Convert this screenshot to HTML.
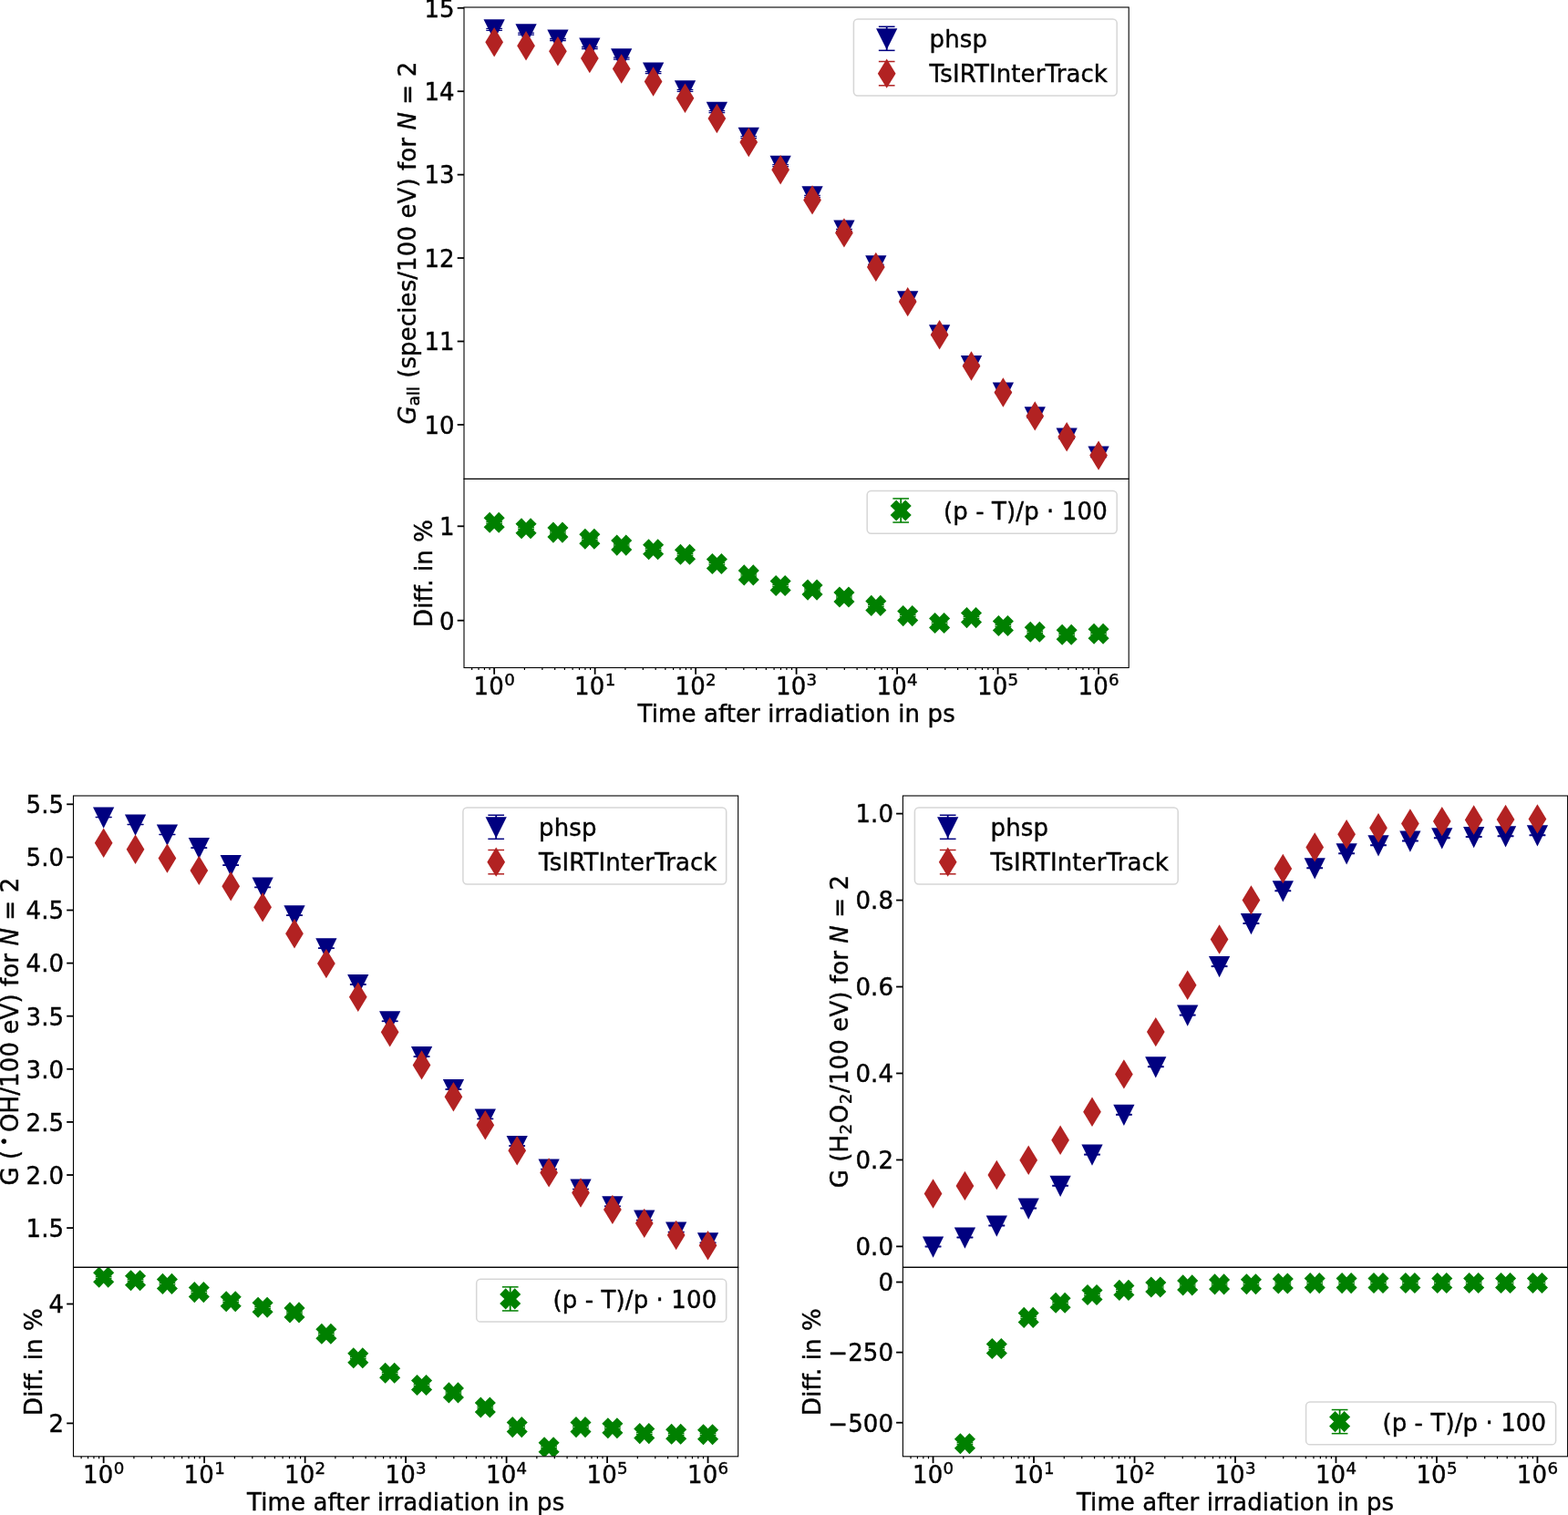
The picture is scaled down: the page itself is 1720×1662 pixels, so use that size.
<!DOCTYPE html>
<html><head><meta charset="utf-8"><title>G-value comparison plots</title>
<style>html,body{margin:0;padding:0;background:#fff;}svg{display:block;}text{stroke:#000;stroke-width:0.4px;}</style></head>
<body>
<svg width="1720" height="1662" viewBox="0 0 1720 1662" font-family="'DejaVu Sans', 'Liberation Sans', sans-serif" font-size="26" letter-spacing="0.1" fill="#000">
<rect width="1720" height="1662" fill="#fff"/>
<defs><clipPath id="cm0"><rect x="509" y="8" width="729.2" height="517.4"/></clipPath>
<clipPath id="cd0"><rect x="509" y="525.4" width="729.2" height="207.1"/></clipPath>
<clipPath id="cm1"><rect x="80.5" y="873" width="729.2" height="517.3"/></clipPath>
<clipPath id="cd1"><rect x="80.5" y="1390.3" width="729.2" height="207.5"/></clipPath>
<clipPath id="cm2"><rect x="990.4" y="873" width="729.2" height="517.3"/></clipPath>
<clipPath id="cd2"><rect x="990.4" y="1390.3" width="729.2" height="207.5"/></clipPath></defs>
<g clip-path="url(#cm0)"><g fill="#000080" stroke="#000080" stroke-width="1.3"><line x1="533.3" y1="31.3" x2="551" y2="31.3"/><line x1="533.3" y1="33.3" x2="551" y2="33.3"/><line x1="568.19" y1="36.2" x2="585.89" y2="36.2"/><line x1="568.19" y1="38.2" x2="585.89" y2="38.2"/><line x1="603.08" y1="42.5" x2="620.78" y2="42.5"/><line x1="603.08" y1="44.5" x2="620.78" y2="44.5"/><line x1="637.97" y1="51.5" x2="655.67" y2="51.5"/><line x1="637.97" y1="53.5" x2="655.67" y2="53.5"/><line x1="672.86" y1="63.2" x2="690.56" y2="63.2"/><line x1="672.86" y1="65.2" x2="690.56" y2="65.2"/><line x1="707.75" y1="78.6" x2="725.45" y2="78.6"/><line x1="707.75" y1="80.6" x2="725.45" y2="80.6"/><line x1="742.64" y1="98.3" x2="760.34" y2="98.3"/><line x1="742.64" y1="100.3" x2="760.34" y2="100.3"/><line x1="777.53" y1="121.7" x2="795.23" y2="121.7"/><line x1="777.53" y1="123.7" x2="795.23" y2="123.7"/><line x1="812.42" y1="149.7" x2="830.12" y2="149.7"/><line x1="812.42" y1="151.7" x2="830.12" y2="151.7"/><line x1="847.31" y1="180.7" x2="865.01" y2="180.7"/><line x1="847.31" y1="182.7" x2="865.01" y2="182.7"/><line x1="882.19" y1="214.3" x2="899.89" y2="214.3"/><line x1="882.19" y1="216.3" x2="899.89" y2="216.3"/><line x1="917.08" y1="251.4" x2="934.78" y2="251.4"/><line x1="917.08" y1="253.4" x2="934.78" y2="253.4"/><line x1="951.97" y1="290.2" x2="969.67" y2="290.2"/><line x1="951.97" y1="292.2" x2="969.67" y2="292.2"/><line x1="986.86" y1="329.2" x2="1004.56" y2="329.2"/><line x1="986.86" y1="331.2" x2="1004.56" y2="331.2"/><line x1="1021.75" y1="366.3" x2="1039.45" y2="366.3"/><line x1="1021.75" y1="368.3" x2="1039.45" y2="368.3"/><line x1="1056.64" y1="400" x2="1074.34" y2="400"/><line x1="1056.64" y1="402" x2="1074.34" y2="402"/><line x1="1091.53" y1="429.6" x2="1109.23" y2="429.6"/><line x1="1091.53" y1="431.6" x2="1109.23" y2="431.6"/><line x1="1126.42" y1="456.3" x2="1144.12" y2="456.3"/><line x1="1126.42" y1="458.3" x2="1144.12" y2="458.3"/><line x1="1161.31" y1="479.4" x2="1179.01" y2="479.4"/><line x1="1161.31" y1="481.4" x2="1179.01" y2="481.4"/><line x1="1196.2" y1="499.6" x2="1213.9" y2="499.6"/><line x1="1196.2" y1="501.6" x2="1213.9" y2="501.6"/></g><g fill="#000080"><path d="M530.53 21.3L553.77 21.3L542.15 44.54Z"/><path d="M565.42 26.2L588.66 26.2L577.04 49.44Z"/><path d="M600.31 32.5L623.55 32.5L611.93 55.74Z"/><path d="M635.2 41.5L658.44 41.5L646.82 64.74Z"/><path d="M670.09 53.2L693.33 53.2L681.71 76.44Z"/><path d="M704.98 68.6L728.22 68.6L716.6 91.84Z"/><path d="M739.87 88.3L763.11 88.3L751.49 111.54Z"/><path d="M774.76 111.7L798 111.7L786.38 134.94Z"/><path d="M809.65 139.7L832.89 139.7L821.27 162.94Z"/><path d="M844.54 170.7L867.78 170.7L856.16 193.94Z"/><path d="M879.42 204.3L902.66 204.3L891.04 227.54Z"/><path d="M914.31 241.4L937.55 241.4L925.93 264.64Z"/><path d="M949.2 280.2L972.44 280.2L960.82 303.44Z"/><path d="M984.09 319.2L1007.33 319.2L995.71 342.44Z"/><path d="M1018.98 356.3L1042.22 356.3L1030.6 379.54Z"/><path d="M1053.87 390L1077.11 390L1065.49 413.24Z"/><path d="M1088.76 419.6L1112 419.6L1100.38 442.84Z"/><path d="M1123.65 446.3L1146.89 446.3L1135.27 469.54Z"/><path d="M1158.54 469.4L1181.78 469.4L1170.16 492.64Z"/><path d="M1193.43 489.6L1216.67 489.6L1205.05 512.84Z"/></g><g fill="#b22222"><path d="M542.15 30L552 46.2L542.15 62.4L532.3 46.2Z"/><path d="M577.04 34.1L586.89 50.3L577.04 66.5L567.19 50.3Z"/><path d="M611.93 40L621.78 56.2L611.93 72.4L602.08 56.2Z"/><path d="M646.82 47.8L656.67 64L646.82 80.2L636.97 64Z"/><path d="M681.71 59.3L691.56 75.5L681.71 91.7L671.86 75.5Z"/><path d="M716.6 73.3L726.45 89.5L716.6 105.7L706.75 89.5Z"/><path d="M751.49 91.6L761.34 107.8L751.49 124L741.64 107.8Z"/><path d="M786.38 113.8L796.23 130L786.38 146.2L776.53 130Z"/><path d="M821.27 139.9L831.12 156.1L821.27 172.3L811.42 156.1Z"/><path d="M856.16 170L866.01 186.2L856.16 202.4L846.31 186.2Z"/><path d="M891.04 203.2L900.89 219.4L891.04 235.6L881.19 219.4Z"/><path d="M925.93 239.2L935.78 255.4L925.93 271.6L916.08 255.4Z"/><path d="M960.82 276.7L970.67 292.9L960.82 309.1L950.97 292.9Z"/><path d="M995.71 314.9L1005.56 331.1L995.71 347.3L985.86 331.1Z"/><path d="M1030.6 351.1L1040.45 367.3L1030.6 383.5L1020.75 367.3Z"/><path d="M1065.49 385.3L1075.34 401.5L1065.49 417.7L1055.64 401.5Z"/><path d="M1100.38 414.3L1110.23 430.5L1100.38 446.7L1090.53 430.5Z"/><path d="M1135.27 440.2L1145.12 456.4L1135.27 472.6L1125.42 456.4Z"/><path d="M1170.16 463L1180.01 479.2L1170.16 495.4L1160.31 479.2Z"/><path d="M1205.05 483.4L1214.9 499.6L1205.05 515.8L1195.2 499.6Z"/></g></g>
<g stroke="#000" stroke-width="1.8"><line x1="501.7" y1="465.92" x2="509" y2="465.92"/><line x1="501.7" y1="374.49" x2="509" y2="374.49"/><line x1="501.7" y1="283.06" x2="509" y2="283.06"/><line x1="501.7" y1="191.63" x2="509" y2="191.63"/><line x1="501.7" y1="100.2" x2="509" y2="100.2"/><line x1="501.7" y1="8.77" x2="509" y2="8.77"/></g>
<text x="498.7" y="475.72" text-anchor="end">10</text>
<text x="498.7" y="384.29" text-anchor="end">11</text>
<text x="498.7" y="292.86" text-anchor="end">12</text>
<text x="498.7" y="201.43" text-anchor="end">13</text>
<text x="498.7" y="110" text-anchor="end">14</text>
<text x="498.7" y="18.57" text-anchor="end">15</text>
<rect x="936.4" y="21" width="288.8" height="84" rx="4.4" ry="4.4" fill="#fff" fill-opacity="0.8" stroke="#ccc" stroke-opacity="0.8" stroke-width="1.5"/>
<g fill="#000080" stroke="#000080" stroke-width="1.5"><line x1="972.7" y1="29.25" x2="972.7" y2="55.35" stroke-width="1.8"/><line x1="963.85" y1="29.25" x2="981.55" y2="29.25"/><line x1="963.85" y1="55.35" x2="981.55" y2="55.35"/><path d="M961.08 31.3L984.32 31.3L972.7 54.54Z" stroke="none"/></g>
<g fill="#b22222" stroke="#b22222" stroke-width="1.5"><line x1="972.7" y1="67.5" x2="972.7" y2="93.8" stroke-width="1.8"/><line x1="963.85" y1="67.5" x2="981.55" y2="67.5"/><line x1="963.85" y1="93.8" x2="981.55" y2="93.8"/><path d="M972.7 64.45L982.55 80.65L972.7 96.85L962.85 80.65Z" stroke="none"/></g>
<text x="1019.6" y="52.3">phsp</text>
<text x="1019.6" y="90.3">TsIRTInterTrack</text>
<rect x="509" y="525.4" width="729.2" height="207.1" fill="#fff"/>
<g clip-path="url(#cd0)"><g fill="#008000" stroke="#008000" stroke-width="1.5"><line x1="533.3" y1="572.3" x2="551" y2="572.3"/><line x1="533.3" y1="574.3" x2="551" y2="574.3"/><line x1="568.19" y1="578.8" x2="585.89" y2="578.8"/><line x1="568.19" y1="580.8" x2="585.89" y2="580.8"/><line x1="603.08" y1="583.1" x2="620.78" y2="583.1"/><line x1="603.08" y1="585.1" x2="620.78" y2="585.1"/><line x1="637.97" y1="590.2" x2="655.67" y2="590.2"/><line x1="637.97" y1="592.2" x2="655.67" y2="592.2"/><line x1="672.86" y1="597.1" x2="690.56" y2="597.1"/><line x1="672.86" y1="599.1" x2="690.56" y2="599.1"/><line x1="707.75" y1="601.8" x2="725.45" y2="601.8"/><line x1="707.75" y1="603.8" x2="725.45" y2="603.8"/><line x1="742.64" y1="607.3" x2="760.34" y2="607.3"/><line x1="742.64" y1="609.3" x2="760.34" y2="609.3"/><line x1="777.53" y1="617.5" x2="795.23" y2="617.5"/><line x1="777.53" y1="619.5" x2="795.23" y2="619.5"/><line x1="812.42" y1="629.9" x2="830.12" y2="629.9"/><line x1="812.42" y1="631.9" x2="830.12" y2="631.9"/><line x1="847.31" y1="641.5" x2="865.01" y2="641.5"/><line x1="847.31" y1="643.5" x2="865.01" y2="643.5"/><line x1="882.19" y1="646.1" x2="899.89" y2="646.1"/><line x1="882.19" y1="648.1" x2="899.89" y2="648.1"/><line x1="917.08" y1="654" x2="934.78" y2="654"/><line x1="917.08" y1="656" x2="934.78" y2="656"/><line x1="951.97" y1="663.4" x2="969.67" y2="663.4"/><line x1="951.97" y1="665.4" x2="969.67" y2="665.4"/><line x1="986.86" y1="674.6" x2="1004.56" y2="674.6"/><line x1="986.86" y1="676.6" x2="1004.56" y2="676.6"/><line x1="1021.75" y1="682.5" x2="1039.45" y2="682.5"/><line x1="1021.75" y1="684.5" x2="1039.45" y2="684.5"/><line x1="1056.64" y1="676.6" x2="1074.34" y2="676.6"/><line x1="1056.64" y1="678.6" x2="1074.34" y2="678.6"/><line x1="1091.53" y1="685.5" x2="1109.23" y2="685.5"/><line x1="1091.53" y1="687.5" x2="1109.23" y2="687.5"/><line x1="1126.42" y1="692.3" x2="1144.12" y2="692.3"/><line x1="1126.42" y1="694.3" x2="1144.12" y2="694.3"/><line x1="1161.31" y1="695.3" x2="1179.01" y2="695.3"/><line x1="1161.31" y1="697.3" x2="1179.01" y2="697.3"/><line x1="1196.2" y1="694.3" x2="1213.9" y2="694.3"/><line x1="1196.2" y1="696.3" x2="1213.9" y2="696.3"/></g><g fill="#008000"><path d="M537.15 561.75L542.15 566.89L547.15 561.75L553.7 568.3L548.56 573.3L553.7 578.3L547.15 584.85L542.15 579.71L537.15 584.85L530.6 578.3L535.74 573.3L530.6 568.3Z"/><path d="M572.04 568.25L577.04 573.39L582.04 568.25L588.59 574.8L583.45 579.8L588.59 584.8L582.04 591.35L577.04 586.21L572.04 591.35L565.49 584.8L570.63 579.8L565.49 574.8Z"/><path d="M606.93 572.55L611.93 577.69L616.93 572.55L623.48 579.1L618.34 584.1L623.48 589.1L616.93 595.65L611.93 590.51L606.93 595.65L600.38 589.1L605.52 584.1L600.38 579.1Z"/><path d="M641.82 579.65L646.82 584.79L651.82 579.65L658.37 586.2L653.23 591.2L658.37 596.2L651.82 602.75L646.82 597.61L641.82 602.75L635.27 596.2L640.41 591.2L635.27 586.2Z"/><path d="M676.71 586.55L681.71 591.69L686.71 586.55L693.26 593.1L688.12 598.1L693.26 603.1L686.71 609.65L681.71 604.51L676.71 609.65L670.16 603.1L675.3 598.1L670.16 593.1Z"/><path d="M711.6 591.25L716.6 596.39L721.6 591.25L728.15 597.8L723.01 602.8L728.15 607.8L721.6 614.35L716.6 609.21L711.6 614.35L705.05 607.8L710.19 602.8L705.05 597.8Z"/><path d="M746.49 596.75L751.49 601.89L756.49 596.75L763.04 603.3L757.9 608.3L763.04 613.3L756.49 619.85L751.49 614.71L746.49 619.85L739.94 613.3L745.08 608.3L739.94 603.3Z"/><path d="M781.38 606.95L786.38 612.09L791.38 606.95L797.93 613.5L792.79 618.5L797.93 623.5L791.38 630.05L786.38 624.91L781.38 630.05L774.83 623.5L779.97 618.5L774.83 613.5Z"/><path d="M816.27 619.35L821.27 624.49L826.27 619.35L832.82 625.9L827.68 630.9L832.82 635.9L826.27 642.45L821.27 637.31L816.27 642.45L809.72 635.9L814.86 630.9L809.72 625.9Z"/><path d="M851.16 630.95L856.16 636.09L861.16 630.95L867.71 637.5L862.57 642.5L867.71 647.5L861.16 654.05L856.16 648.91L851.16 654.05L844.61 647.5L849.75 642.5L844.61 637.5Z"/><path d="M886.04 635.55L891.04 640.69L896.04 635.55L902.59 642.1L897.45 647.1L902.59 652.1L896.04 658.65L891.04 653.51L886.04 658.65L879.49 652.1L884.63 647.1L879.49 642.1Z"/><path d="M920.93 643.45L925.93 648.59L930.93 643.45L937.48 650L932.34 655L937.48 660L930.93 666.55L925.93 661.41L920.93 666.55L914.38 660L919.52 655L914.38 650Z"/><path d="M955.82 652.85L960.82 657.99L965.82 652.85L972.37 659.4L967.23 664.4L972.37 669.4L965.82 675.95L960.82 670.81L955.82 675.95L949.27 669.4L954.41 664.4L949.27 659.4Z"/><path d="M990.71 664.05L995.71 669.19L1000.71 664.05L1007.26 670.6L1002.12 675.6L1007.26 680.6L1000.71 687.15L995.71 682.01L990.71 687.15L984.16 680.6L989.3 675.6L984.16 670.6Z"/><path d="M1025.6 671.95L1030.6 677.09L1035.6 671.95L1042.15 678.5L1037.01 683.5L1042.15 688.5L1035.6 695.05L1030.6 689.91L1025.6 695.05L1019.05 688.5L1024.19 683.5L1019.05 678.5Z"/><path d="M1060.49 666.05L1065.49 671.19L1070.49 666.05L1077.04 672.6L1071.9 677.6L1077.04 682.6L1070.49 689.15L1065.49 684.01L1060.49 689.15L1053.94 682.6L1059.08 677.6L1053.94 672.6Z"/><path d="M1095.38 674.95L1100.38 680.09L1105.38 674.95L1111.93 681.5L1106.79 686.5L1111.93 691.5L1105.38 698.05L1100.38 692.91L1095.38 698.05L1088.83 691.5L1093.97 686.5L1088.83 681.5Z"/><path d="M1130.27 681.75L1135.27 686.89L1140.27 681.75L1146.82 688.3L1141.68 693.3L1146.82 698.3L1140.27 704.85L1135.27 699.71L1130.27 704.85L1123.72 698.3L1128.86 693.3L1123.72 688.3Z"/><path d="M1165.16 684.75L1170.16 689.89L1175.16 684.75L1181.71 691.3L1176.57 696.3L1181.71 701.3L1175.16 707.85L1170.16 702.71L1165.16 707.85L1158.61 701.3L1163.75 696.3L1158.61 691.3Z"/><path d="M1200.05 683.75L1205.05 688.89L1210.05 683.75L1216.6 690.3L1211.46 695.3L1216.6 700.3L1210.05 706.85L1205.05 701.71L1200.05 706.85L1193.5 700.3L1198.64 695.3L1193.5 690.3Z"/></g></g>
<g stroke="#000" stroke-width="1.8"><line x1="501.7" y1="680.7" x2="509" y2="680.7"/><line x1="501.7" y1="577.3" x2="509" y2="577.3"/></g>
<text x="498.7" y="690.5" text-anchor="end">0</text>
<text x="498.7" y="587.1" text-anchor="end">1</text>
<g stroke="#000" stroke-width="1.8"><line x1="542.15" y1="732.5" x2="542.15" y2="739.8"/><line x1="652.63" y1="732.5" x2="652.63" y2="739.8"/><line x1="763.12" y1="732.5" x2="763.12" y2="739.8"/><line x1="873.6" y1="732.5" x2="873.6" y2="739.8"/><line x1="984.08" y1="732.5" x2="984.08" y2="739.8"/><line x1="1094.57" y1="732.5" x2="1094.57" y2="739.8"/><line x1="1205.05" y1="732.5" x2="1205.05" y2="739.8"/></g><g stroke="#000" stroke-width="1.2"><line x1="517.63" y1="732.5" x2="517.63" y2="735"/><line x1="525.03" y1="732.5" x2="525.03" y2="735"/><line x1="531.44" y1="732.5" x2="531.44" y2="735"/><line x1="537.09" y1="732.5" x2="537.09" y2="735"/><line x1="575.4" y1="732.5" x2="575.4" y2="735"/><line x1="594.86" y1="732.5" x2="594.86" y2="735"/><line x1="608.66" y1="732.5" x2="608.66" y2="735"/><line x1="619.37" y1="732.5" x2="619.37" y2="735"/><line x1="628.12" y1="732.5" x2="628.12" y2="735"/><line x1="635.52" y1="732.5" x2="635.52" y2="735"/><line x1="641.92" y1="732.5" x2="641.92" y2="735"/><line x1="647.57" y1="732.5" x2="647.57" y2="735"/><line x1="685.89" y1="732.5" x2="685.89" y2="735"/><line x1="705.34" y1="732.5" x2="705.34" y2="735"/><line x1="719.15" y1="732.5" x2="719.15" y2="735"/><line x1="729.86" y1="732.5" x2="729.86" y2="735"/><line x1="738.6" y1="732.5" x2="738.6" y2="735"/><line x1="746" y1="732.5" x2="746" y2="735"/><line x1="752.41" y1="732.5" x2="752.41" y2="735"/><line x1="758.06" y1="732.5" x2="758.06" y2="735"/><line x1="796.37" y1="732.5" x2="796.37" y2="735"/><line x1="815.83" y1="732.5" x2="815.83" y2="735"/><line x1="829.63" y1="732.5" x2="829.63" y2="735"/><line x1="840.34" y1="732.5" x2="840.34" y2="735"/><line x1="849.09" y1="732.5" x2="849.09" y2="735"/><line x1="856.49" y1="732.5" x2="856.49" y2="735"/><line x1="862.89" y1="732.5" x2="862.89" y2="735"/><line x1="868.54" y1="732.5" x2="868.54" y2="735"/><line x1="906.86" y1="732.5" x2="906.86" y2="735"/><line x1="926.31" y1="732.5" x2="926.31" y2="735"/><line x1="940.12" y1="732.5" x2="940.12" y2="735"/><line x1="950.83" y1="732.5" x2="950.83" y2="735"/><line x1="959.57" y1="732.5" x2="959.57" y2="735"/><line x1="966.97" y1="732.5" x2="966.97" y2="735"/><line x1="973.38" y1="732.5" x2="973.38" y2="735"/><line x1="979.03" y1="732.5" x2="979.03" y2="735"/><line x1="1017.34" y1="732.5" x2="1017.34" y2="735"/><line x1="1036.8" y1="732.5" x2="1036.8" y2="735"/><line x1="1050.6" y1="732.5" x2="1050.6" y2="735"/><line x1="1061.31" y1="732.5" x2="1061.31" y2="735"/><line x1="1070.06" y1="732.5" x2="1070.06" y2="735"/><line x1="1077.46" y1="732.5" x2="1077.46" y2="735"/><line x1="1083.86" y1="732.5" x2="1083.86" y2="735"/><line x1="1089.51" y1="732.5" x2="1089.51" y2="735"/><line x1="1127.83" y1="732.5" x2="1127.83" y2="735"/><line x1="1147.28" y1="732.5" x2="1147.28" y2="735"/><line x1="1161.09" y1="732.5" x2="1161.09" y2="735"/><line x1="1171.8" y1="732.5" x2="1171.8" y2="735"/><line x1="1180.54" y1="732.5" x2="1180.54" y2="735"/><line x1="1187.94" y1="732.5" x2="1187.94" y2="735"/><line x1="1194.35" y1="732.5" x2="1194.35" y2="735"/><line x1="1200" y1="732.5" x2="1200" y2="735"/></g>
<text transform="translate(542.15 762.54)"><tspan x="-22.59" y="-0.54">1</tspan><tspan x="-5.91" y="-0.54">0</tspan><tspan x="11.01" y="-10.49" font-size="18.2">0</tspan></text>
<text transform="translate(652.63 762.54)"><tspan x="-22.59" y="-0.78">1</tspan><tspan x="-5.91" y="-0.78">0</tspan><tspan x="11.01" y="-10.73" font-size="18.2">1</tspan></text>
<text transform="translate(763.12 762.54)"><tspan x="-22.59" y="-0.54">1</tspan><tspan x="-5.91" y="-0.54">0</tspan><tspan x="11.01" y="-10.49" font-size="18.2">2</tspan></text>
<text transform="translate(873.6 762.54)"><tspan x="-22.59" y="-0.54">1</tspan><tspan x="-5.91" y="-0.54">0</tspan><tspan x="11.01" y="-10.49" font-size="18.2">3</tspan></text>
<text transform="translate(984.08 762.54)"><tspan x="-22.59" y="-0.78">1</tspan><tspan x="-5.91" y="-0.78">0</tspan><tspan x="11.01" y="-10.73" font-size="18.2">4</tspan></text>
<text transform="translate(1094.57 762.54)"><tspan x="-22.59" y="-0.78">1</tspan><tspan x="-5.91" y="-0.78">0</tspan><tspan x="11.01" y="-10.73" font-size="18.2">5</tspan></text>
<text transform="translate(1205.05 762.54)"><tspan x="-22.59" y="-0.54">1</tspan><tspan x="-5.91" y="-0.54">0</tspan><tspan x="11.01" y="-10.49" font-size="18.2">6</tspan></text>
<rect x="951.2" y="538.4" width="274" height="46.8" rx="4.4" ry="4.4" fill="#fff" fill-opacity="0.8" stroke="#ccc" stroke-opacity="0.8" stroke-width="1.5"/>
<g fill="#008000" stroke="#008000" stroke-width="1.5"><line x1="988.2" y1="546.95" x2="988.2" y2="573.05" stroke-width="1.8"/><line x1="979.35" y1="546.95" x2="997.05" y2="546.95"/><line x1="979.35" y1="573.05" x2="997.05" y2="573.05"/><path d="M983.2 548.45L988.2 553.59L993.2 548.45L999.75 555L994.61 560L999.75 565L993.2 571.55L988.2 566.41L983.2 571.55L976.65 565L981.79 560L976.65 555Z" stroke="none"/></g>
<text x="1035" y="570.1">(p - T)/p · 100</text>
<g fill="none" stroke="#000" stroke-width="1.1"><rect x="509" y="8" width="729.2" height="517.4"/><rect x="509" y="525.4" width="729.2" height="207.1"/></g>
<text x="873.65" y="792.1" text-anchor="middle">Time after irradiation in ps</text>
<text transform="translate(456.35 465.61) rotate(-90)"><tspan x="0" y="-0.25" font-style="oblique">G</tspan><tspan x="323.06" y="-0.25" font-style="oblique">N</tspan><tspan x="20.31" y="4.02" font-size="18.2">a</tspan><tspan x="31.55" y="4.02" font-size="18.2">l</tspan><tspan x="36.65" y="4.02" font-size="18.2">l</tspan><tspan x="42.46" y="-0.25">&#160;</tspan><tspan x="50.79" y="-0.25">(</tspan><tspan x="61.02" y="-0.25">s</tspan><tspan x="74.67" y="-0.25">p</tspan><tspan x="91.31" y="-0.25">e</tspan><tspan x="107.43" y="-0.25">c</tspan><tspan x="121.84" y="-0.25">i</tspan><tspan x="129.12" y="-0.25">e</tspan><tspan x="145.25" y="-0.25">s</tspan><tspan x="158.9" y="-0.25">/</tspan><tspan x="167.73" y="-0.25">1</tspan><tspan x="184.4" y="-0.25">0</tspan><tspan x="201.08" y="-0.25">0</tspan><tspan x="217.75" y="-0.25">&#160;</tspan><tspan x="226.08" y="-0.25">e</tspan><tspan x="242.21" y="-0.25">V</tspan><tspan x="260.14" y="-0.25">)</tspan><tspan x="270.36" y="-0.25">&#160;</tspan><tspan x="278.69" y="-0.25">f</tspan><tspan x="287.92" y="-0.25">o</tspan><tspan x="303.95" y="-0.25">r</tspan><tspan x="314.73" y="-0.25">&#160;</tspan><tspan x="342.66" y="-0.25">&#160;</tspan><tspan x="350.99" y="-0.25">=</tspan><tspan x="372.95" y="-0.25">&#160;</tspan><tspan x="381.28" y="-0.25">2</tspan></text>
<text transform="translate(473.8 628.95) rotate(-90)" text-anchor="middle">Diff. in %</text>
<g clip-path="url(#cm1)"><g fill="#000080" stroke="#000080" stroke-width="1.3"><line x1="104.8" y1="896.3" x2="122.5" y2="896.3"/><line x1="104.8" y1="896.7" x2="122.5" y2="896.7"/><line x1="139.69" y1="904.3" x2="157.39" y2="904.3"/><line x1="139.69" y1="904.7" x2="157.39" y2="904.7"/><line x1="174.58" y1="915.3" x2="192.28" y2="915.3"/><line x1="174.58" y1="915.7" x2="192.28" y2="915.7"/><line x1="209.47" y1="929.9" x2="227.17" y2="929.9"/><line x1="209.47" y1="930.3" x2="227.17" y2="930.3"/><line x1="244.36" y1="948.9" x2="262.06" y2="948.9"/><line x1="244.36" y1="949.3" x2="262.06" y2="949.3"/><line x1="279.25" y1="973.2" x2="296.95" y2="973.2"/><line x1="279.25" y1="973.6" x2="296.95" y2="973.6"/><line x1="314.14" y1="1004" x2="331.84" y2="1004"/><line x1="314.14" y1="1004.4" x2="331.84" y2="1004.4"/><line x1="349.03" y1="1040" x2="366.73" y2="1040"/><line x1="349.03" y1="1040.4" x2="366.73" y2="1040.4"/><line x1="383.92" y1="1079.8" x2="401.62" y2="1079.8"/><line x1="383.92" y1="1080.2" x2="401.62" y2="1080.2"/><line x1="418.81" y1="1120.1" x2="436.51" y2="1120.1"/><line x1="418.81" y1="1120.5" x2="436.51" y2="1120.5"/><line x1="453.69" y1="1158.9" x2="471.39" y2="1158.9"/><line x1="453.69" y1="1159.3" x2="471.39" y2="1159.3"/><line x1="488.58" y1="1194.8" x2="506.28" y2="1194.8"/><line x1="488.58" y1="1195.2" x2="506.28" y2="1195.2"/><line x1="523.47" y1="1227.2" x2="541.17" y2="1227.2"/><line x1="523.47" y1="1227.6" x2="541.17" y2="1227.6"/><line x1="558.36" y1="1256.8" x2="576.06" y2="1256.8"/><line x1="558.36" y1="1257.2" x2="576.06" y2="1257.2"/><line x1="593.25" y1="1282.4" x2="610.95" y2="1282.4"/><line x1="593.25" y1="1282.8" x2="610.95" y2="1282.8"/><line x1="628.14" y1="1304.3" x2="645.84" y2="1304.3"/><line x1="628.14" y1="1304.7" x2="645.84" y2="1304.7"/><line x1="663.03" y1="1323.05" x2="680.73" y2="1323.05"/><line x1="663.03" y1="1323.45" x2="680.73" y2="1323.45"/><line x1="697.92" y1="1338.3" x2="715.62" y2="1338.3"/><line x1="697.92" y1="1338.7" x2="715.62" y2="1338.7"/><line x1="732.81" y1="1351.4" x2="750.51" y2="1351.4"/><line x1="732.81" y1="1351.8" x2="750.51" y2="1351.8"/><line x1="767.7" y1="1363.05" x2="785.4" y2="1363.05"/><line x1="767.7" y1="1363.45" x2="785.4" y2="1363.45"/></g><g fill="#000080"><path d="M102.03 885.5L125.27 885.5L113.65 908.74Z"/><path d="M136.92 893.5L160.16 893.5L148.54 916.74Z"/><path d="M171.81 904.5L195.05 904.5L183.43 927.74Z"/><path d="M206.7 919.1L229.94 919.1L218.32 942.34Z"/><path d="M241.59 938.1L264.83 938.1L253.21 961.34Z"/><path d="M276.48 962.4L299.72 962.4L288.1 985.64Z"/><path d="M311.37 993.2L334.61 993.2L322.99 1016.44Z"/><path d="M346.26 1029.2L369.5 1029.2L357.88 1052.44Z"/><path d="M381.15 1069L404.39 1069L392.77 1092.24Z"/><path d="M416.04 1109.3L439.28 1109.3L427.66 1132.54Z"/><path d="M450.92 1148.1L474.16 1148.1L462.54 1171.34Z"/><path d="M485.81 1184L509.05 1184L497.43 1207.24Z"/><path d="M520.7 1216.4L543.94 1216.4L532.32 1239.64Z"/><path d="M555.59 1246L578.83 1246L567.21 1269.24Z"/><path d="M590.48 1271.6L613.72 1271.6L602.1 1294.84Z"/><path d="M625.37 1293.5L648.61 1293.5L636.99 1316.74Z"/><path d="M660.26 1312.25L683.5 1312.25L671.88 1335.49Z"/><path d="M695.15 1327.5L718.39 1327.5L706.77 1350.74Z"/><path d="M730.04 1340.6L753.28 1340.6L741.66 1363.84Z"/><path d="M764.93 1352.25L788.17 1352.25L776.55 1375.49Z"/></g><g fill="#b22222"><path d="M113.65 908.5L123.5 924.7L113.65 940.9L103.8 924.7Z"/><path d="M148.54 915.5L158.39 931.7L148.54 947.9L138.69 931.7Z"/><path d="M183.43 925.4L193.28 941.6L183.43 957.8L173.58 941.6Z"/><path d="M218.32 938.7L228.17 954.9L218.32 971.1L208.47 954.9Z"/><path d="M253.21 956L263.06 972.2L253.21 988.4L243.36 972.2Z"/><path d="M288.1 979.1L297.95 995.3L288.1 1011.5L278.25 995.3Z"/><path d="M322.99 1008L332.84 1024.2L322.99 1040.4L313.14 1024.2Z"/><path d="M357.88 1040.9L367.73 1057.1L357.88 1073.3L348.03 1057.1Z"/><path d="M392.77 1077.6L402.62 1093.8L392.77 1110L382.92 1093.8Z"/><path d="M427.66 1116L437.51 1132.2L427.66 1148.4L417.81 1132.2Z"/><path d="M462.54 1152.2L472.39 1168.4L462.54 1184.6L452.69 1168.4Z"/><path d="M497.43 1187L507.28 1203.2L497.43 1219.4L487.58 1203.2Z"/><path d="M532.32 1218.1L542.17 1234.3L532.32 1250.5L522.47 1234.3Z"/><path d="M567.21 1246L577.06 1262.2L567.21 1278.4L557.36 1262.2Z"/><path d="M602.1 1270.2L611.95 1286.4L602.1 1302.6L592.25 1286.4Z"/><path d="M636.99 1292.3L646.84 1308.5L636.99 1324.7L627.14 1308.5Z"/><path d="M671.88 1310.7L681.73 1326.9L671.88 1343.1L662.03 1326.9Z"/><path d="M706.77 1325.7L716.62 1341.9L706.77 1358.1L696.92 1341.9Z"/><path d="M741.66 1338.8L751.51 1355L741.66 1371.2L731.81 1355Z"/><path d="M776.55 1350.05L786.4 1366.25L776.55 1382.45L766.7 1366.25Z"/></g></g>
<g stroke="#000" stroke-width="1.8"><line x1="73.2" y1="1347.1" x2="80.5" y2="1347.1"/><line x1="73.2" y1="1289" x2="80.5" y2="1289"/><line x1="73.2" y1="1230.9" x2="80.5" y2="1230.9"/><line x1="73.2" y1="1172.8" x2="80.5" y2="1172.8"/><line x1="73.2" y1="1114.7" x2="80.5" y2="1114.7"/><line x1="73.2" y1="1056.6" x2="80.5" y2="1056.6"/><line x1="73.2" y1="998.5" x2="80.5" y2="998.5"/><line x1="73.2" y1="940.4" x2="80.5" y2="940.4"/><line x1="73.2" y1="882.3" x2="80.5" y2="882.3"/></g>
<text x="70.2" y="1356.9" text-anchor="end">1.5</text>
<text x="70.2" y="1298.8" text-anchor="end">2.0</text>
<text x="70.2" y="1240.7" text-anchor="end">2.5</text>
<text x="70.2" y="1182.6" text-anchor="end">3.0</text>
<text x="70.2" y="1124.5" text-anchor="end">3.5</text>
<text x="70.2" y="1066.4" text-anchor="end">4.0</text>
<text x="70.2" y="1008.3" text-anchor="end">4.5</text>
<text x="70.2" y="950.2" text-anchor="end">5.0</text>
<text x="70.2" y="892.1" text-anchor="end">5.5</text>
<rect x="507.9" y="886" width="288.8" height="84" rx="4.4" ry="4.4" fill="#fff" fill-opacity="0.8" stroke="#ccc" stroke-opacity="0.8" stroke-width="1.5"/>
<g fill="#000080" stroke="#000080" stroke-width="1.5"><line x1="544.2" y1="894.25" x2="544.2" y2="920.35" stroke-width="1.8"/><line x1="535.35" y1="894.25" x2="553.05" y2="894.25"/><line x1="535.35" y1="920.35" x2="553.05" y2="920.35"/><path d="M532.58 896.3L555.82 896.3L544.2 919.54Z" stroke="none"/></g>
<g fill="#b22222" stroke="#b22222" stroke-width="1.5"><line x1="544.2" y1="932.5" x2="544.2" y2="958.8" stroke-width="1.8"/><line x1="535.35" y1="932.5" x2="553.05" y2="932.5"/><line x1="535.35" y1="958.8" x2="553.05" y2="958.8"/><path d="M544.2 929.45L554.05 945.65L544.2 961.85L534.35 945.65Z" stroke="none"/></g>
<text x="591.1" y="917.3">phsp</text>
<text x="591.1" y="955.3">TsIRTInterTrack</text>
<rect x="80.5" y="1390.3" width="729.2" height="207.5" fill="#fff"/>
<g clip-path="url(#cd1)"><g fill="#008000" stroke="#008000" stroke-width="1.5"><line x1="104.8" y1="1400.2" x2="122.5" y2="1400.2"/><line x1="104.8" y1="1402.2" x2="122.5" y2="1402.2"/><line x1="139.69" y1="1403.7" x2="157.39" y2="1403.7"/><line x1="139.69" y1="1405.7" x2="157.39" y2="1405.7"/><line x1="174.58" y1="1407.4" x2="192.28" y2="1407.4"/><line x1="174.58" y1="1409.4" x2="192.28" y2="1409.4"/><line x1="209.47" y1="1416.6" x2="227.17" y2="1416.6"/><line x1="209.47" y1="1418.6" x2="227.17" y2="1418.6"/><line x1="244.36" y1="1426.7" x2="262.06" y2="1426.7"/><line x1="244.36" y1="1428.7" x2="262.06" y2="1428.7"/><line x1="279.25" y1="1433.2" x2="296.95" y2="1433.2"/><line x1="279.25" y1="1435.2" x2="296.95" y2="1435.2"/><line x1="314.14" y1="1438.9" x2="331.84" y2="1438.9"/><line x1="314.14" y1="1440.9" x2="331.84" y2="1440.9"/><line x1="349.03" y1="1462.3" x2="366.73" y2="1462.3"/><line x1="349.03" y1="1464.3" x2="366.73" y2="1464.3"/><line x1="383.92" y1="1488.8" x2="401.62" y2="1488.8"/><line x1="383.92" y1="1490.8" x2="401.62" y2="1490.8"/><line x1="418.81" y1="1505.2" x2="436.51" y2="1505.2"/><line x1="418.81" y1="1507.2" x2="436.51" y2="1507.2"/><line x1="453.69" y1="1518.5" x2="471.39" y2="1518.5"/><line x1="453.69" y1="1520.5" x2="471.39" y2="1520.5"/><line x1="488.58" y1="1526.9" x2="506.28" y2="1526.9"/><line x1="488.58" y1="1528.9" x2="506.28" y2="1528.9"/><line x1="523.47" y1="1543" x2="541.17" y2="1543"/><line x1="523.47" y1="1545" x2="541.17" y2="1545"/><line x1="558.36" y1="1564.6" x2="576.06" y2="1564.6"/><line x1="558.36" y1="1566.6" x2="576.06" y2="1566.6"/><line x1="593.25" y1="1586.7" x2="610.95" y2="1586.7"/><line x1="593.25" y1="1588.7" x2="610.95" y2="1588.7"/><line x1="628.14" y1="1564.6" x2="645.84" y2="1564.6"/><line x1="628.14" y1="1566.6" x2="645.84" y2="1566.6"/><line x1="663.03" y1="1565.7" x2="680.73" y2="1565.7"/><line x1="663.03" y1="1567.7" x2="680.73" y2="1567.7"/><line x1="697.92" y1="1571.6" x2="715.62" y2="1571.6"/><line x1="697.92" y1="1573.6" x2="715.62" y2="1573.6"/><line x1="732.81" y1="1572.3" x2="750.51" y2="1572.3"/><line x1="732.81" y1="1574.3" x2="750.51" y2="1574.3"/><line x1="767.7" y1="1572.7" x2="785.4" y2="1572.7"/><line x1="767.7" y1="1574.7" x2="785.4" y2="1574.7"/></g><g fill="#008000"><path d="M108.65 1389.65L113.65 1394.79L118.65 1389.65L125.2 1396.2L120.06 1401.2L125.2 1406.2L118.65 1412.75L113.65 1407.61L108.65 1412.75L102.1 1406.2L107.24 1401.2L102.1 1396.2Z"/><path d="M143.54 1393.15L148.54 1398.29L153.54 1393.15L160.09 1399.7L154.95 1404.7L160.09 1409.7L153.54 1416.25L148.54 1411.11L143.54 1416.25L136.99 1409.7L142.13 1404.7L136.99 1399.7Z"/><path d="M178.43 1396.85L183.43 1401.99L188.43 1396.85L194.98 1403.4L189.84 1408.4L194.98 1413.4L188.43 1419.95L183.43 1414.81L178.43 1419.95L171.88 1413.4L177.02 1408.4L171.88 1403.4Z"/><path d="M213.32 1406.05L218.32 1411.19L223.32 1406.05L229.87 1412.6L224.73 1417.6L229.87 1422.6L223.32 1429.15L218.32 1424.01L213.32 1429.15L206.77 1422.6L211.91 1417.6L206.77 1412.6Z"/><path d="M248.21 1416.15L253.21 1421.29L258.21 1416.15L264.76 1422.7L259.62 1427.7L264.76 1432.7L258.21 1439.25L253.21 1434.11L248.21 1439.25L241.66 1432.7L246.8 1427.7L241.66 1422.7Z"/><path d="M283.1 1422.65L288.1 1427.79L293.1 1422.65L299.65 1429.2L294.51 1434.2L299.65 1439.2L293.1 1445.75L288.1 1440.61L283.1 1445.75L276.55 1439.2L281.69 1434.2L276.55 1429.2Z"/><path d="M317.99 1428.35L322.99 1433.49L327.99 1428.35L334.54 1434.9L329.4 1439.9L334.54 1444.9L327.99 1451.45L322.99 1446.31L317.99 1451.45L311.44 1444.9L316.58 1439.9L311.44 1434.9Z"/><path d="M352.88 1451.75L357.88 1456.89L362.88 1451.75L369.43 1458.3L364.29 1463.3L369.43 1468.3L362.88 1474.85L357.88 1469.71L352.88 1474.85L346.33 1468.3L351.47 1463.3L346.33 1458.3Z"/><path d="M387.77 1478.25L392.77 1483.39L397.77 1478.25L404.32 1484.8L399.18 1489.8L404.32 1494.8L397.77 1501.35L392.77 1496.21L387.77 1501.35L381.22 1494.8L386.36 1489.8L381.22 1484.8Z"/><path d="M422.66 1494.65L427.66 1499.79L432.66 1494.65L439.21 1501.2L434.07 1506.2L439.21 1511.2L432.66 1517.75L427.66 1512.61L422.66 1517.75L416.11 1511.2L421.25 1506.2L416.11 1501.2Z"/><path d="M457.54 1507.95L462.54 1513.09L467.54 1507.95L474.09 1514.5L468.95 1519.5L474.09 1524.5L467.54 1531.05L462.54 1525.91L457.54 1531.05L450.99 1524.5L456.13 1519.5L450.99 1514.5Z"/><path d="M492.43 1516.35L497.43 1521.49L502.43 1516.35L508.98 1522.9L503.84 1527.9L508.98 1532.9L502.43 1539.45L497.43 1534.31L492.43 1539.45L485.88 1532.9L491.02 1527.9L485.88 1522.9Z"/><path d="M527.32 1532.45L532.32 1537.59L537.32 1532.45L543.87 1539L538.73 1544L543.87 1549L537.32 1555.55L532.32 1550.41L527.32 1555.55L520.77 1549L525.91 1544L520.77 1539Z"/><path d="M562.21 1554.05L567.21 1559.19L572.21 1554.05L578.76 1560.6L573.62 1565.6L578.76 1570.6L572.21 1577.15L567.21 1572.01L562.21 1577.15L555.66 1570.6L560.8 1565.6L555.66 1560.6Z"/><path d="M597.1 1576.15L602.1 1581.29L607.1 1576.15L613.65 1582.7L608.51 1587.7L613.65 1592.7L607.1 1599.25L602.1 1594.11L597.1 1599.25L590.55 1592.7L595.69 1587.7L590.55 1582.7Z"/><path d="M631.99 1554.05L636.99 1559.19L641.99 1554.05L648.54 1560.6L643.4 1565.6L648.54 1570.6L641.99 1577.15L636.99 1572.01L631.99 1577.15L625.44 1570.6L630.58 1565.6L625.44 1560.6Z"/><path d="M666.88 1555.15L671.88 1560.29L676.88 1555.15L683.43 1561.7L678.29 1566.7L683.43 1571.7L676.88 1578.25L671.88 1573.11L666.88 1578.25L660.33 1571.7L665.47 1566.7L660.33 1561.7Z"/><path d="M701.77 1561.05L706.77 1566.19L711.77 1561.05L718.32 1567.6L713.18 1572.6L718.32 1577.6L711.77 1584.15L706.77 1579.01L701.77 1584.15L695.22 1577.6L700.36 1572.6L695.22 1567.6Z"/><path d="M736.66 1561.75L741.66 1566.89L746.66 1561.75L753.21 1568.3L748.07 1573.3L753.21 1578.3L746.66 1584.85L741.66 1579.71L736.66 1584.85L730.11 1578.3L735.25 1573.3L730.11 1568.3Z"/><path d="M771.55 1562.15L776.55 1567.29L781.55 1562.15L788.1 1568.7L782.96 1573.7L788.1 1578.7L781.55 1585.25L776.55 1580.11L771.55 1585.25L765 1578.7L770.14 1573.7L765 1568.7Z"/></g></g>
<g stroke="#000" stroke-width="1.8"><line x1="73.2" y1="1561.4" x2="80.5" y2="1561.4"/><line x1="73.2" y1="1430.5" x2="80.5" y2="1430.5"/></g>
<text x="70.2" y="1571.2" text-anchor="end">2</text>
<text x="70.2" y="1440.3" text-anchor="end">4</text>
<g stroke="#000" stroke-width="1.8"><line x1="113.65" y1="1597.8" x2="113.65" y2="1605.1"/><line x1="224.13" y1="1597.8" x2="224.13" y2="1605.1"/><line x1="334.62" y1="1597.8" x2="334.62" y2="1605.1"/><line x1="445.1" y1="1597.8" x2="445.1" y2="1605.1"/><line x1="555.58" y1="1597.8" x2="555.58" y2="1605.1"/><line x1="666.07" y1="1597.8" x2="666.07" y2="1605.1"/><line x1="776.55" y1="1597.8" x2="776.55" y2="1605.1"/></g><g stroke="#000" stroke-width="1.2"><line x1="89.13" y1="1597.8" x2="89.13" y2="1600.3"/><line x1="96.53" y1="1597.8" x2="96.53" y2="1600.3"/><line x1="102.94" y1="1597.8" x2="102.94" y2="1600.3"/><line x1="108.59" y1="1597.8" x2="108.59" y2="1600.3"/><line x1="146.9" y1="1597.8" x2="146.9" y2="1600.3"/><line x1="166.36" y1="1597.8" x2="166.36" y2="1600.3"/><line x1="180.16" y1="1597.8" x2="180.16" y2="1600.3"/><line x1="190.87" y1="1597.8" x2="190.87" y2="1600.3"/><line x1="199.62" y1="1597.8" x2="199.62" y2="1600.3"/><line x1="207.02" y1="1597.8" x2="207.02" y2="1600.3"/><line x1="213.42" y1="1597.8" x2="213.42" y2="1600.3"/><line x1="219.07" y1="1597.8" x2="219.07" y2="1600.3"/><line x1="257.39" y1="1597.8" x2="257.39" y2="1600.3"/><line x1="276.84" y1="1597.8" x2="276.84" y2="1600.3"/><line x1="290.65" y1="1597.8" x2="290.65" y2="1600.3"/><line x1="301.36" y1="1597.8" x2="301.36" y2="1600.3"/><line x1="310.1" y1="1597.8" x2="310.1" y2="1600.3"/><line x1="317.5" y1="1597.8" x2="317.5" y2="1600.3"/><line x1="323.91" y1="1597.8" x2="323.91" y2="1600.3"/><line x1="329.56" y1="1597.8" x2="329.56" y2="1600.3"/><line x1="367.87" y1="1597.8" x2="367.87" y2="1600.3"/><line x1="387.33" y1="1597.8" x2="387.33" y2="1600.3"/><line x1="401.13" y1="1597.8" x2="401.13" y2="1600.3"/><line x1="411.84" y1="1597.8" x2="411.84" y2="1600.3"/><line x1="420.59" y1="1597.8" x2="420.59" y2="1600.3"/><line x1="427.99" y1="1597.8" x2="427.99" y2="1600.3"/><line x1="434.39" y1="1597.8" x2="434.39" y2="1600.3"/><line x1="440.04" y1="1597.8" x2="440.04" y2="1600.3"/><line x1="478.36" y1="1597.8" x2="478.36" y2="1600.3"/><line x1="497.81" y1="1597.8" x2="497.81" y2="1600.3"/><line x1="511.62" y1="1597.8" x2="511.62" y2="1600.3"/><line x1="522.33" y1="1597.8" x2="522.33" y2="1600.3"/><line x1="531.07" y1="1597.8" x2="531.07" y2="1600.3"/><line x1="538.47" y1="1597.8" x2="538.47" y2="1600.3"/><line x1="544.88" y1="1597.8" x2="544.88" y2="1600.3"/><line x1="550.53" y1="1597.8" x2="550.53" y2="1600.3"/><line x1="588.84" y1="1597.8" x2="588.84" y2="1600.3"/><line x1="608.3" y1="1597.8" x2="608.3" y2="1600.3"/><line x1="622.1" y1="1597.8" x2="622.1" y2="1600.3"/><line x1="632.81" y1="1597.8" x2="632.81" y2="1600.3"/><line x1="641.56" y1="1597.8" x2="641.56" y2="1600.3"/><line x1="648.96" y1="1597.8" x2="648.96" y2="1600.3"/><line x1="655.36" y1="1597.8" x2="655.36" y2="1600.3"/><line x1="661.01" y1="1597.8" x2="661.01" y2="1600.3"/><line x1="699.33" y1="1597.8" x2="699.33" y2="1600.3"/><line x1="718.78" y1="1597.8" x2="718.78" y2="1600.3"/><line x1="732.59" y1="1597.8" x2="732.59" y2="1600.3"/><line x1="743.3" y1="1597.8" x2="743.3" y2="1600.3"/><line x1="752.04" y1="1597.8" x2="752.04" y2="1600.3"/><line x1="759.44" y1="1597.8" x2="759.44" y2="1600.3"/><line x1="765.85" y1="1597.8" x2="765.85" y2="1600.3"/><line x1="771.5" y1="1597.8" x2="771.5" y2="1600.3"/></g>
<text transform="translate(113.65 1627.84)"><tspan x="-22.59" y="-0.54">1</tspan><tspan x="-5.91" y="-0.54">0</tspan><tspan x="11.01" y="-10.49" font-size="18.2">0</tspan></text>
<text transform="translate(224.13 1627.84)"><tspan x="-22.59" y="-0.78">1</tspan><tspan x="-5.91" y="-0.78">0</tspan><tspan x="11.01" y="-10.73" font-size="18.2">1</tspan></text>
<text transform="translate(334.62 1627.84)"><tspan x="-22.59" y="-0.54">1</tspan><tspan x="-5.91" y="-0.54">0</tspan><tspan x="11.01" y="-10.49" font-size="18.2">2</tspan></text>
<text transform="translate(445.1 1627.84)"><tspan x="-22.59" y="-0.54">1</tspan><tspan x="-5.91" y="-0.54">0</tspan><tspan x="11.01" y="-10.49" font-size="18.2">3</tspan></text>
<text transform="translate(555.58 1627.84)"><tspan x="-22.59" y="-0.78">1</tspan><tspan x="-5.91" y="-0.78">0</tspan><tspan x="11.01" y="-10.73" font-size="18.2">4</tspan></text>
<text transform="translate(666.07 1627.84)"><tspan x="-22.59" y="-0.78">1</tspan><tspan x="-5.91" y="-0.78">0</tspan><tspan x="11.01" y="-10.73" font-size="18.2">5</tspan></text>
<text transform="translate(776.55 1627.84)"><tspan x="-22.59" y="-0.54">1</tspan><tspan x="-5.91" y="-0.54">0</tspan><tspan x="11.01" y="-10.49" font-size="18.2">6</tspan></text>
<rect x="522.7" y="1403.3" width="274" height="46.8" rx="4.4" ry="4.4" fill="#fff" fill-opacity="0.8" stroke="#ccc" stroke-opacity="0.8" stroke-width="1.5"/>
<g fill="#008000" stroke="#008000" stroke-width="1.5"><line x1="559.7" y1="1411.85" x2="559.7" y2="1437.95" stroke-width="1.8"/><line x1="550.85" y1="1411.85" x2="568.55" y2="1411.85"/><line x1="550.85" y1="1437.95" x2="568.55" y2="1437.95"/><path d="M554.7 1413.35L559.7 1418.49L564.7 1413.35L571.25 1419.9L566.11 1424.9L571.25 1429.9L564.7 1436.45L559.7 1431.31L554.7 1436.45L548.15 1429.9L553.29 1424.9L548.15 1419.9Z" stroke="none"/></g>
<text x="606.5" y="1435">(p - T)/p · 100</text>
<g fill="none" stroke="#000" stroke-width="1.1"><rect x="80.5" y="873" width="729.2" height="517.3"/><rect x="80.5" y="1390.3" width="729.2" height="207.5"/></g>
<text x="445.15" y="1657.4" text-anchor="middle">Time after irradiation in ps</text>
<text transform="translate(20.05 1300.51) rotate(-90)"><tspan x="0" y="-0.25">G</tspan><tspan x="20.31" y="-0.25">&#160;</tspan><tspan x="28.64" y="-0.25">(</tspan><tspan x="58.46" y="-0.25">O</tspan><tspan x="79.09" y="-0.25">H</tspan><tspan x="98.8" y="-0.25">/</tspan><tspan x="107.63" y="-0.25">1</tspan><tspan x="124.3" y="-0.25">0</tspan><tspan x="140.98" y="-0.25">0</tspan><tspan x="157.65" y="-0.25">&#160;</tspan><tspan x="165.98" y="-0.25">e</tspan><tspan x="182.11" y="-0.25">V</tspan><tspan x="200.04" y="-0.25">)</tspan><tspan x="210.26" y="-0.25">&#160;</tspan><tspan x="218.59" y="-0.25">f</tspan><tspan x="227.82" y="-0.25">o</tspan><tspan x="243.85" y="-0.25">r</tspan><tspan x="254.63" y="-0.25">&#160;</tspan><tspan x="282.56" y="-0.25">&#160;</tspan><tspan x="290.89" y="-0.25">=</tspan><tspan x="312.85" y="-0.25">&#160;</tspan><tspan x="321.18" y="-0.25">2</tspan><tspan x="42.69" y="-10.2" font-size="18.2">∙</tspan><tspan x="262.96" y="-0.25" font-style="oblique">N</tspan></text>
<text transform="translate(45.5 1494.05) rotate(-90)" text-anchor="middle">Diff. in %</text>
<g clip-path="url(#cm2)"><g fill="#000080" stroke="#000080" stroke-width="1.3"><line x1="1014.7" y1="1367.15" x2="1032.4" y2="1367.15"/><line x1="1014.7" y1="1367.85" x2="1032.4" y2="1367.85"/><line x1="1049.59" y1="1357.05" x2="1067.29" y2="1357.05"/><line x1="1049.59" y1="1357.75" x2="1067.29" y2="1357.75"/><line x1="1084.48" y1="1344.05" x2="1102.18" y2="1344.05"/><line x1="1084.48" y1="1344.75" x2="1102.18" y2="1344.75"/><line x1="1119.37" y1="1325.25" x2="1137.07" y2="1325.25"/><line x1="1119.37" y1="1325.95" x2="1137.07" y2="1325.95"/><line x1="1154.26" y1="1300.45" x2="1171.96" y2="1300.45"/><line x1="1154.26" y1="1301.15" x2="1171.96" y2="1301.15"/><line x1="1189.15" y1="1266.25" x2="1206.85" y2="1266.25"/><line x1="1189.15" y1="1266.95" x2="1206.85" y2="1266.95"/><line x1="1224.04" y1="1222.45" x2="1241.74" y2="1222.45"/><line x1="1224.04" y1="1223.15" x2="1241.74" y2="1223.15"/><line x1="1258.93" y1="1169.85" x2="1276.63" y2="1169.85"/><line x1="1258.93" y1="1170.55" x2="1276.63" y2="1170.55"/><line x1="1293.82" y1="1113.25" x2="1311.52" y2="1113.25"/><line x1="1293.82" y1="1113.95" x2="1311.52" y2="1113.95"/><line x1="1328.71" y1="1059.75" x2="1346.41" y2="1059.75"/><line x1="1328.71" y1="1060.45" x2="1346.41" y2="1060.45"/><line x1="1363.59" y1="1012.75" x2="1381.29" y2="1012.75"/><line x1="1363.59" y1="1013.45" x2="1381.29" y2="1013.45"/><line x1="1398.48" y1="976.85" x2="1416.18" y2="976.85"/><line x1="1398.48" y1="977.55" x2="1416.18" y2="977.55"/><line x1="1433.37" y1="951.95" x2="1451.07" y2="951.95"/><line x1="1433.37" y1="952.65" x2="1451.07" y2="952.65"/><line x1="1468.26" y1="935.95" x2="1485.96" y2="935.95"/><line x1="1468.26" y1="936.65" x2="1485.96" y2="936.65"/><line x1="1503.15" y1="926.85" x2="1520.85" y2="926.85"/><line x1="1503.15" y1="927.55" x2="1520.85" y2="927.55"/><line x1="1538.04" y1="922.05" x2="1555.74" y2="922.05"/><line x1="1538.04" y1="922.75" x2="1555.74" y2="922.75"/><line x1="1572.93" y1="918.95" x2="1590.63" y2="918.95"/><line x1="1572.93" y1="919.65" x2="1590.63" y2="919.65"/><line x1="1607.82" y1="917.75" x2="1625.52" y2="917.75"/><line x1="1607.82" y1="918.45" x2="1625.52" y2="918.45"/><line x1="1642.71" y1="916.85" x2="1660.41" y2="916.85"/><line x1="1642.71" y1="917.55" x2="1660.41" y2="917.55"/><line x1="1677.6" y1="915.95" x2="1695.3" y2="915.95"/><line x1="1677.6" y1="916.65" x2="1695.3" y2="916.65"/></g><g fill="#000080"><path d="M1011.93 1356.5L1035.17 1356.5L1023.55 1379.74Z"/><path d="M1046.82 1346.4L1070.06 1346.4L1058.44 1369.64Z"/><path d="M1081.71 1333.4L1104.95 1333.4L1093.33 1356.64Z"/><path d="M1116.6 1314.6L1139.84 1314.6L1128.22 1337.84Z"/><path d="M1151.49 1289.8L1174.73 1289.8L1163.11 1313.04Z"/><path d="M1186.38 1255.6L1209.62 1255.6L1198 1278.84Z"/><path d="M1221.27 1211.8L1244.51 1211.8L1232.89 1235.04Z"/><path d="M1256.16 1159.2L1279.4 1159.2L1267.78 1182.44Z"/><path d="M1291.05 1102.6L1314.29 1102.6L1302.67 1125.84Z"/><path d="M1325.94 1049.1L1349.18 1049.1L1337.56 1072.34Z"/><path d="M1360.82 1002.1L1384.06 1002.1L1372.44 1025.34Z"/><path d="M1395.71 966.2L1418.95 966.2L1407.33 989.44Z"/><path d="M1430.6 941.3L1453.84 941.3L1442.22 964.54Z"/><path d="M1465.49 925.3L1488.73 925.3L1477.11 948.54Z"/><path d="M1500.38 916.2L1523.62 916.2L1512 939.44Z"/><path d="M1535.27 911.4L1558.51 911.4L1546.89 934.64Z"/><path d="M1570.16 908.3L1593.4 908.3L1581.78 931.54Z"/><path d="M1605.05 907.1L1628.29 907.1L1616.67 930.34Z"/><path d="M1639.94 906.2L1663.18 906.2L1651.56 929.44Z"/><path d="M1674.83 905.3L1698.07 905.3L1686.45 928.54Z"/></g><g fill="#b22222"><path d="M1023.55 1293.3L1033.4 1309.5L1023.55 1325.7L1013.7 1309.5Z"/><path d="M1058.44 1284.7L1068.29 1300.9L1058.44 1317.1L1048.59 1300.9Z"/><path d="M1093.33 1272.8L1103.18 1289L1093.33 1305.2L1083.48 1289Z"/><path d="M1128.22 1256.5L1138.07 1272.7L1128.22 1288.9L1118.37 1272.7Z"/><path d="M1163.11 1234.6L1172.96 1250.8L1163.11 1267L1153.26 1250.8Z"/><path d="M1198 1203.5L1207.85 1219.7L1198 1235.9L1188.15 1219.7Z"/><path d="M1232.89 1162.2L1242.74 1178.4L1232.89 1194.6L1223.04 1178.4Z"/><path d="M1267.78 1115.9L1277.63 1132.1L1267.78 1148.3L1257.93 1132.1Z"/><path d="M1302.67 1064.5L1312.52 1080.7L1302.67 1096.9L1292.82 1080.7Z"/><path d="M1337.56 1014.3L1347.41 1030.5L1337.56 1046.7L1327.71 1030.5Z"/><path d="M1372.44 971.2L1382.29 987.4L1372.44 1003.6L1362.59 987.4Z"/><path d="M1407.33 936.8L1417.18 953L1407.33 969.2L1397.48 953Z"/><path d="M1442.22 913.2L1452.07 929.4L1442.22 945.6L1432.37 929.4Z"/><path d="M1477.11 899.1L1486.96 915.3L1477.11 931.5L1467.26 915.3Z"/><path d="M1512 892L1521.85 908.2L1512 924.4L1502.15 908.2Z"/><path d="M1546.89 887.3L1556.74 903.5L1546.89 919.7L1537.04 903.5Z"/><path d="M1581.78 884.9L1591.63 901.1L1581.78 917.3L1571.93 901.1Z"/><path d="M1616.67 883.3L1626.52 899.5L1616.67 915.7L1606.82 899.5Z"/><path d="M1651.56 882.7L1661.41 898.9L1651.56 915.1L1641.71 898.9Z"/><path d="M1686.45 882.2L1696.3 898.4L1686.45 914.6L1676.6 898.4Z"/></g></g>
<g stroke="#000" stroke-width="1.8"><line x1="983.1" y1="1367.4" x2="990.4" y2="1367.4"/><line x1="983.1" y1="1272.44" x2="990.4" y2="1272.44"/><line x1="983.1" y1="1177.48" x2="990.4" y2="1177.48"/><line x1="983.1" y1="1082.52" x2="990.4" y2="1082.52"/><line x1="983.1" y1="987.56" x2="990.4" y2="987.56"/><line x1="983.1" y1="892.6" x2="990.4" y2="892.6"/></g>
<text x="980.1" y="1377.2" text-anchor="end">0.0</text>
<text x="980.1" y="1282.24" text-anchor="end">0.2</text>
<text x="980.1" y="1187.28" text-anchor="end">0.4</text>
<text x="980.1" y="1092.32" text-anchor="end">0.6</text>
<text x="980.1" y="997.36" text-anchor="end">0.8</text>
<text x="980.1" y="902.4" text-anchor="end">1.0</text>
<rect x="1003.4" y="886" width="288.8" height="84" rx="4.4" ry="4.4" fill="#fff" fill-opacity="0.8" stroke="#ccc" stroke-opacity="0.8" stroke-width="1.5"/>
<g fill="#000080" stroke="#000080" stroke-width="1.5"><line x1="1039.7" y1="894.25" x2="1039.7" y2="920.35" stroke-width="1.8"/><line x1="1030.85" y1="894.25" x2="1048.55" y2="894.25"/><line x1="1030.85" y1="920.35" x2="1048.55" y2="920.35"/><path d="M1028.08 896.3L1051.32 896.3L1039.7 919.54Z" stroke="none"/></g>
<g fill="#b22222" stroke="#b22222" stroke-width="1.5"><line x1="1039.7" y1="932.5" x2="1039.7" y2="958.8" stroke-width="1.8"/><line x1="1030.85" y1="932.5" x2="1048.55" y2="932.5"/><line x1="1030.85" y1="958.8" x2="1048.55" y2="958.8"/><path d="M1039.7 929.45L1049.55 945.65L1039.7 961.85L1029.85 945.65Z" stroke="none"/></g>
<text x="1086.6" y="917.3">phsp</text>
<text x="1086.6" y="955.3">TsIRTInterTrack</text>
<rect x="990.4" y="1390.3" width="729.2" height="207.5" fill="#fff"/>
<g clip-path="url(#cd2)"><g fill="#008000" stroke="#008000" stroke-width="1.5"><line x1="1049.59" y1="1582.7" x2="1067.29" y2="1582.7"/><line x1="1049.59" y1="1584.7" x2="1067.29" y2="1584.7"/><line x1="1084.48" y1="1478.5" x2="1102.18" y2="1478.5"/><line x1="1084.48" y1="1480.5" x2="1102.18" y2="1480.5"/><line x1="1119.37" y1="1444.4" x2="1137.07" y2="1444.4"/><line x1="1119.37" y1="1446.4" x2="1137.07" y2="1446.4"/><line x1="1154.26" y1="1428.3" x2="1171.96" y2="1428.3"/><line x1="1154.26" y1="1430.3" x2="1171.96" y2="1430.3"/><line x1="1189.15" y1="1419.5" x2="1206.85" y2="1419.5"/><line x1="1189.15" y1="1421.5" x2="1206.85" y2="1421.5"/><line x1="1224.04" y1="1414.4" x2="1241.74" y2="1414.4"/><line x1="1224.04" y1="1416.4" x2="1241.74" y2="1416.4"/><line x1="1258.93" y1="1411" x2="1276.63" y2="1411"/><line x1="1258.93" y1="1413" x2="1276.63" y2="1413"/><line x1="1293.82" y1="1408.9" x2="1311.52" y2="1408.9"/><line x1="1293.82" y1="1410.9" x2="1311.52" y2="1410.9"/><line x1="1328.71" y1="1407.9" x2="1346.41" y2="1407.9"/><line x1="1328.71" y1="1409.9" x2="1346.41" y2="1409.9"/><line x1="1363.59" y1="1407.7" x2="1381.29" y2="1407.7"/><line x1="1363.59" y1="1409.7" x2="1381.29" y2="1409.7"/><line x1="1398.48" y1="1407" x2="1416.18" y2="1407"/><line x1="1398.48" y1="1409" x2="1416.18" y2="1409"/><line x1="1433.37" y1="1406.6" x2="1451.07" y2="1406.6"/><line x1="1433.37" y1="1408.6" x2="1451.07" y2="1408.6"/><line x1="1468.26" y1="1406.6" x2="1485.96" y2="1406.6"/><line x1="1468.26" y1="1408.6" x2="1485.96" y2="1408.6"/><line x1="1503.15" y1="1406.5" x2="1520.85" y2="1406.5"/><line x1="1503.15" y1="1408.5" x2="1520.85" y2="1408.5"/><line x1="1538.04" y1="1406.5" x2="1555.74" y2="1406.5"/><line x1="1538.04" y1="1408.5" x2="1555.74" y2="1408.5"/><line x1="1572.93" y1="1406.5" x2="1590.63" y2="1406.5"/><line x1="1572.93" y1="1408.5" x2="1590.63" y2="1408.5"/><line x1="1607.82" y1="1406.5" x2="1625.52" y2="1406.5"/><line x1="1607.82" y1="1408.5" x2="1625.52" y2="1408.5"/><line x1="1642.71" y1="1406.5" x2="1660.41" y2="1406.5"/><line x1="1642.71" y1="1408.5" x2="1660.41" y2="1408.5"/><line x1="1677.6" y1="1406.5" x2="1695.3" y2="1406.5"/><line x1="1677.6" y1="1408.5" x2="1695.3" y2="1408.5"/></g><g fill="#008000"><path d="M1053.44 1572.15L1058.44 1577.29L1063.44 1572.15L1069.99 1578.7L1064.85 1583.7L1069.99 1588.7L1063.44 1595.25L1058.44 1590.11L1053.44 1595.25L1046.89 1588.7L1052.03 1583.7L1046.89 1578.7Z"/><path d="M1088.33 1467.95L1093.33 1473.09L1098.33 1467.95L1104.88 1474.5L1099.74 1479.5L1104.88 1484.5L1098.33 1491.05L1093.33 1485.91L1088.33 1491.05L1081.78 1484.5L1086.92 1479.5L1081.78 1474.5Z"/><path d="M1123.22 1433.85L1128.22 1438.99L1133.22 1433.85L1139.77 1440.4L1134.63 1445.4L1139.77 1450.4L1133.22 1456.95L1128.22 1451.81L1123.22 1456.95L1116.67 1450.4L1121.81 1445.4L1116.67 1440.4Z"/><path d="M1158.11 1417.75L1163.11 1422.89L1168.11 1417.75L1174.66 1424.3L1169.52 1429.3L1174.66 1434.3L1168.11 1440.85L1163.11 1435.71L1158.11 1440.85L1151.56 1434.3L1156.7 1429.3L1151.56 1424.3Z"/><path d="M1193 1408.95L1198 1414.09L1203 1408.95L1209.55 1415.5L1204.41 1420.5L1209.55 1425.5L1203 1432.05L1198 1426.91L1193 1432.05L1186.45 1425.5L1191.59 1420.5L1186.45 1415.5Z"/><path d="M1227.89 1403.85L1232.89 1408.99L1237.89 1403.85L1244.44 1410.4L1239.3 1415.4L1244.44 1420.4L1237.89 1426.95L1232.89 1421.81L1227.89 1426.95L1221.34 1420.4L1226.48 1415.4L1221.34 1410.4Z"/><path d="M1262.78 1400.45L1267.78 1405.59L1272.78 1400.45L1279.33 1407L1274.19 1412L1279.33 1417L1272.78 1423.55L1267.78 1418.41L1262.78 1423.55L1256.23 1417L1261.37 1412L1256.23 1407Z"/><path d="M1297.67 1398.35L1302.67 1403.49L1307.67 1398.35L1314.22 1404.9L1309.08 1409.9L1314.22 1414.9L1307.67 1421.45L1302.67 1416.31L1297.67 1421.45L1291.12 1414.9L1296.26 1409.9L1291.12 1404.9Z"/><path d="M1332.56 1397.35L1337.56 1402.49L1342.56 1397.35L1349.11 1403.9L1343.97 1408.9L1349.11 1413.9L1342.56 1420.45L1337.56 1415.31L1332.56 1420.45L1326.01 1413.9L1331.15 1408.9L1326.01 1403.9Z"/><path d="M1367.44 1397.15L1372.44 1402.29L1377.44 1397.15L1383.99 1403.7L1378.85 1408.7L1383.99 1413.7L1377.44 1420.25L1372.44 1415.11L1367.44 1420.25L1360.89 1413.7L1366.03 1408.7L1360.89 1403.7Z"/><path d="M1402.33 1396.45L1407.33 1401.59L1412.33 1396.45L1418.88 1403L1413.74 1408L1418.88 1413L1412.33 1419.55L1407.33 1414.41L1402.33 1419.55L1395.78 1413L1400.92 1408L1395.78 1403Z"/><path d="M1437.22 1396.05L1442.22 1401.19L1447.22 1396.05L1453.77 1402.6L1448.63 1407.6L1453.77 1412.6L1447.22 1419.15L1442.22 1414.01L1437.22 1419.15L1430.67 1412.6L1435.81 1407.6L1430.67 1402.6Z"/><path d="M1472.11 1396.05L1477.11 1401.19L1482.11 1396.05L1488.66 1402.6L1483.52 1407.6L1488.66 1412.6L1482.11 1419.15L1477.11 1414.01L1472.11 1419.15L1465.56 1412.6L1470.7 1407.6L1465.56 1402.6Z"/><path d="M1507 1395.95L1512 1401.09L1517 1395.95L1523.55 1402.5L1518.41 1407.5L1523.55 1412.5L1517 1419.05L1512 1413.91L1507 1419.05L1500.45 1412.5L1505.59 1407.5L1500.45 1402.5Z"/><path d="M1541.89 1395.95L1546.89 1401.09L1551.89 1395.95L1558.44 1402.5L1553.3 1407.5L1558.44 1412.5L1551.89 1419.05L1546.89 1413.91L1541.89 1419.05L1535.34 1412.5L1540.48 1407.5L1535.34 1402.5Z"/><path d="M1576.78 1395.95L1581.78 1401.09L1586.78 1395.95L1593.33 1402.5L1588.19 1407.5L1593.33 1412.5L1586.78 1419.05L1581.78 1413.91L1576.78 1419.05L1570.23 1412.5L1575.37 1407.5L1570.23 1402.5Z"/><path d="M1611.67 1395.95L1616.67 1401.09L1621.67 1395.95L1628.22 1402.5L1623.08 1407.5L1628.22 1412.5L1621.67 1419.05L1616.67 1413.91L1611.67 1419.05L1605.12 1412.5L1610.26 1407.5L1605.12 1402.5Z"/><path d="M1646.56 1395.95L1651.56 1401.09L1656.56 1395.95L1663.11 1402.5L1657.97 1407.5L1663.11 1412.5L1656.56 1419.05L1651.56 1413.91L1646.56 1419.05L1640.01 1412.5L1645.15 1407.5L1640.01 1402.5Z"/><path d="M1681.45 1395.95L1686.45 1401.09L1691.45 1395.95L1698 1402.5L1692.86 1407.5L1698 1412.5L1691.45 1419.05L1686.45 1413.91L1681.45 1419.05L1674.9 1412.5L1680.04 1407.5L1674.9 1402.5Z"/></g></g>
<g stroke="#000" stroke-width="1.8"><line x1="983.1" y1="1406.5" x2="990.4" y2="1406.5"/><line x1="983.1" y1="1483.6" x2="990.4" y2="1483.6"/><line x1="983.1" y1="1560.7" x2="990.4" y2="1560.7"/></g>
<text x="980.1" y="1416.3" text-anchor="end">0</text>
<text x="980.1" y="1493.4" text-anchor="end">−250</text>
<text x="980.1" y="1570.5" text-anchor="end">−500</text>
<g stroke="#000" stroke-width="1.8"><line x1="1023.55" y1="1597.8" x2="1023.55" y2="1605.1"/><line x1="1134.03" y1="1597.8" x2="1134.03" y2="1605.1"/><line x1="1244.52" y1="1597.8" x2="1244.52" y2="1605.1"/><line x1="1355" y1="1597.8" x2="1355" y2="1605.1"/><line x1="1465.48" y1="1597.8" x2="1465.48" y2="1605.1"/><line x1="1575.97" y1="1597.8" x2="1575.97" y2="1605.1"/><line x1="1686.45" y1="1597.8" x2="1686.45" y2="1605.1"/></g><g stroke="#000" stroke-width="1.2"><line x1="999.03" y1="1597.8" x2="999.03" y2="1600.3"/><line x1="1006.43" y1="1597.8" x2="1006.43" y2="1600.3"/><line x1="1012.84" y1="1597.8" x2="1012.84" y2="1600.3"/><line x1="1018.49" y1="1597.8" x2="1018.49" y2="1600.3"/><line x1="1056.8" y1="1597.8" x2="1056.8" y2="1600.3"/><line x1="1076.26" y1="1597.8" x2="1076.26" y2="1600.3"/><line x1="1090.06" y1="1597.8" x2="1090.06" y2="1600.3"/><line x1="1100.77" y1="1597.8" x2="1100.77" y2="1600.3"/><line x1="1109.52" y1="1597.8" x2="1109.52" y2="1600.3"/><line x1="1116.92" y1="1597.8" x2="1116.92" y2="1600.3"/><line x1="1123.32" y1="1597.8" x2="1123.32" y2="1600.3"/><line x1="1128.97" y1="1597.8" x2="1128.97" y2="1600.3"/><line x1="1167.29" y1="1597.8" x2="1167.29" y2="1600.3"/><line x1="1186.74" y1="1597.8" x2="1186.74" y2="1600.3"/><line x1="1200.55" y1="1597.8" x2="1200.55" y2="1600.3"/><line x1="1211.26" y1="1597.8" x2="1211.26" y2="1600.3"/><line x1="1220" y1="1597.8" x2="1220" y2="1600.3"/><line x1="1227.4" y1="1597.8" x2="1227.4" y2="1600.3"/><line x1="1233.81" y1="1597.8" x2="1233.81" y2="1600.3"/><line x1="1239.46" y1="1597.8" x2="1239.46" y2="1600.3"/><line x1="1277.77" y1="1597.8" x2="1277.77" y2="1600.3"/><line x1="1297.23" y1="1597.8" x2="1297.23" y2="1600.3"/><line x1="1311.03" y1="1597.8" x2="1311.03" y2="1600.3"/><line x1="1321.74" y1="1597.8" x2="1321.74" y2="1600.3"/><line x1="1330.49" y1="1597.8" x2="1330.49" y2="1600.3"/><line x1="1337.89" y1="1597.8" x2="1337.89" y2="1600.3"/><line x1="1344.29" y1="1597.8" x2="1344.29" y2="1600.3"/><line x1="1349.94" y1="1597.8" x2="1349.94" y2="1600.3"/><line x1="1388.26" y1="1597.8" x2="1388.26" y2="1600.3"/><line x1="1407.71" y1="1597.8" x2="1407.71" y2="1600.3"/><line x1="1421.52" y1="1597.8" x2="1421.52" y2="1600.3"/><line x1="1432.23" y1="1597.8" x2="1432.23" y2="1600.3"/><line x1="1440.97" y1="1597.8" x2="1440.97" y2="1600.3"/><line x1="1448.37" y1="1597.8" x2="1448.37" y2="1600.3"/><line x1="1454.78" y1="1597.8" x2="1454.78" y2="1600.3"/><line x1="1460.43" y1="1597.8" x2="1460.43" y2="1600.3"/><line x1="1498.74" y1="1597.8" x2="1498.74" y2="1600.3"/><line x1="1518.2" y1="1597.8" x2="1518.2" y2="1600.3"/><line x1="1532" y1="1597.8" x2="1532" y2="1600.3"/><line x1="1542.71" y1="1597.8" x2="1542.71" y2="1600.3"/><line x1="1551.46" y1="1597.8" x2="1551.46" y2="1600.3"/><line x1="1558.86" y1="1597.8" x2="1558.86" y2="1600.3"/><line x1="1565.26" y1="1597.8" x2="1565.26" y2="1600.3"/><line x1="1570.91" y1="1597.8" x2="1570.91" y2="1600.3"/><line x1="1609.23" y1="1597.8" x2="1609.23" y2="1600.3"/><line x1="1628.68" y1="1597.8" x2="1628.68" y2="1600.3"/><line x1="1642.49" y1="1597.8" x2="1642.49" y2="1600.3"/><line x1="1653.2" y1="1597.8" x2="1653.2" y2="1600.3"/><line x1="1661.94" y1="1597.8" x2="1661.94" y2="1600.3"/><line x1="1669.34" y1="1597.8" x2="1669.34" y2="1600.3"/><line x1="1675.75" y1="1597.8" x2="1675.75" y2="1600.3"/><line x1="1681.4" y1="1597.8" x2="1681.4" y2="1600.3"/></g>
<text transform="translate(1023.55 1627.84)"><tspan x="-22.59" y="-0.54">1</tspan><tspan x="-5.91" y="-0.54">0</tspan><tspan x="11.01" y="-10.49" font-size="18.2">0</tspan></text>
<text transform="translate(1134.03 1627.84)"><tspan x="-22.59" y="-0.78">1</tspan><tspan x="-5.91" y="-0.78">0</tspan><tspan x="11.01" y="-10.73" font-size="18.2">1</tspan></text>
<text transform="translate(1244.52 1627.84)"><tspan x="-22.59" y="-0.54">1</tspan><tspan x="-5.91" y="-0.54">0</tspan><tspan x="11.01" y="-10.49" font-size="18.2">2</tspan></text>
<text transform="translate(1355 1627.84)"><tspan x="-22.59" y="-0.54">1</tspan><tspan x="-5.91" y="-0.54">0</tspan><tspan x="11.01" y="-10.49" font-size="18.2">3</tspan></text>
<text transform="translate(1465.48 1627.84)"><tspan x="-22.59" y="-0.78">1</tspan><tspan x="-5.91" y="-0.78">0</tspan><tspan x="11.01" y="-10.73" font-size="18.2">4</tspan></text>
<text transform="translate(1575.97 1627.84)"><tspan x="-22.59" y="-0.78">1</tspan><tspan x="-5.91" y="-0.78">0</tspan><tspan x="11.01" y="-10.73" font-size="18.2">5</tspan></text>
<text transform="translate(1686.45 1627.84)"><tspan x="-22.59" y="-0.54">1</tspan><tspan x="-5.91" y="-0.54">0</tspan><tspan x="11.01" y="-10.49" font-size="18.2">6</tspan></text>
<rect x="1432.6" y="1538" width="274" height="46.8" rx="4.4" ry="4.4" fill="#fff" fill-opacity="0.8" stroke="#ccc" stroke-opacity="0.8" stroke-width="1.5"/>
<g fill="#008000" stroke="#008000" stroke-width="1.5"><line x1="1469.6" y1="1546.55" x2="1469.6" y2="1572.65" stroke-width="1.8"/><line x1="1460.75" y1="1546.55" x2="1478.45" y2="1546.55"/><line x1="1460.75" y1="1572.65" x2="1478.45" y2="1572.65"/><path d="M1464.6 1548.05L1469.6 1553.19L1474.6 1548.05L1481.15 1554.6L1476.01 1559.6L1481.15 1564.6L1474.6 1571.15L1469.6 1566.01L1464.6 1571.15L1458.05 1564.6L1463.19 1559.6L1458.05 1554.6Z" stroke="none"/></g>
<text x="1516.4" y="1569.7">(p - T)/p · 100</text>
<g fill="none" stroke="#000" stroke-width="1.1"><rect x="990.4" y="873" width="729.2" height="517.3"/><rect x="990.4" y="1390.3" width="729.2" height="207.5"/></g>
<text x="1355.05" y="1657.4" text-anchor="middle">Time after irradiation in ps</text>
<text transform="translate(929.95 1303.35) rotate(-90)"><tspan x="0" y="-0.25">G</tspan><tspan x="20.31" y="-0.25">&#160;</tspan><tspan x="28.64" y="-0.25">(</tspan><tspan x="38.86" y="-0.25">H</tspan><tspan x="71.21" y="-0.25">O</tspan><tspan x="104.48" y="-0.25">/</tspan><tspan x="113.31" y="-0.25">1</tspan><tspan x="129.98" y="-0.25">0</tspan><tspan x="146.66" y="-0.25">0</tspan><tspan x="163.33" y="-0.25">&#160;</tspan><tspan x="171.66" y="-0.25">e</tspan><tspan x="187.79" y="-0.25">V</tspan><tspan x="205.71" y="-0.25">)</tspan><tspan x="215.94" y="-0.25">&#160;</tspan><tspan x="224.27" y="-0.25">f</tspan><tspan x="233.5" y="-0.25">o</tspan><tspan x="249.53" y="-0.25">r</tspan><tspan x="260.31" y="-0.25">&#160;</tspan><tspan x="288.24" y="-0.25">&#160;</tspan><tspan x="296.57" y="-0.25">=</tspan><tspan x="318.53" y="-0.25">&#160;</tspan><tspan x="326.86" y="-0.25">2</tspan><tspan x="58.82" y="4.02" font-size="18.2">2</tspan><tspan x="92.09" y="4.02" font-size="18.2">2</tspan><tspan x="268.64" y="-0.25" font-style="oblique">N</tspan></text>
<text transform="translate(899.9 1494.05) rotate(-90)" text-anchor="middle">Diff. in %</text>
</svg>
</body></html>
